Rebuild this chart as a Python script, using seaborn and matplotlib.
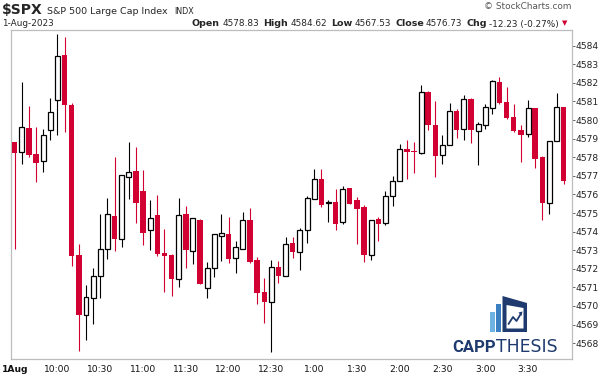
import matplotlib
matplotlib.use("Agg")

import numpy as np
import pandas as pd
import matplotlib.pyplot as plt
import matplotlib.patches as mpatches
import seaborn as sns

# 5-minute OHLC bars, $SPX 1-Aug-2023
opens = [4578.83, 4578.26, 4579.56, 4578.17, 4577.77, 4579.44, 4581.07, 4583.49, 4580.80, 4572.72,
         4569.53, 4570.41, 4571.59, 4573.04, 4574.82, 4573.58, 4576.91, 4577.25, 4576.18, 4574.06,
         4574.89, 4572.84, 4572.74, 4571.43, 4574.94, 4572.96, 4574.62, 4570.95, 4572.02, 4573.79,
         4573.87, 4572.56, 4573.09, 4574.62, 4572.47, 4570.75, 4570.19, 4572.09, 4571.59, 4573.38,
         4572.91, 4574.11, 4575.73, 4576.82, 4575.53, 4575.59, 4574.49, 4576.34, 4575.69, 4575.32,
         4572.75, 4574.67, 4574.47, 4575.93, 4576.70, 4578.43, 4578.31, 4578.20, 4581.52, 4579.73,
         4578.10, 4578.63, 4580.48, 4579.51, 4581.14, 4579.39, 4579.71, 4580.62, 4582.04, 4580.96,
         4580.16, 4579.46, 4579.26, 4580.62, 4578.02, 4575.55, 4578.88, 4580.68]
highs = [4578.83, 4582.04, 4580.75, 4579.62, 4579.51, 4581.18, 4584.62, 4584.46, 4580.89, 4573.33,
         4571.12, 4572.04, 4574.94, 4575.80, 4578.00, 4577.02, 4578.81, 4578.54, 4577.31, 4575.69,
         4575.96, 4574.13, 4572.77, 4575.80, 4575.37, 4574.71, 4574.67, 4572.36, 4573.85, 4574.94,
         4574.78, 4573.49, 4575.05, 4575.26, 4572.63, 4571.50, 4572.47, 4572.41, 4573.70, 4573.70,
         4574.20, 4575.91, 4577.36, 4577.36, 4575.68, 4576.29, 4576.43, 4576.34, 4575.85, 4575.43,
         4574.60, 4574.78, 4576.18, 4576.98, 4578.70, 4578.90, 4578.81, 4581.88, 4581.57, 4581.03,
         4579.19, 4580.89, 4580.59, 4581.34, 4581.16, 4579.87, 4580.84, 4582.13, 4582.31, 4581.77,
         4580.84, 4579.71, 4581.07, 4580.62, 4578.06, 4578.85, 4581.45, 4580.68]
lows = [4573.08, 4577.65, 4577.99, 4576.68, 4577.22, 4578.90, 4579.21, 4579.37, 4572.16, 4567.60,
        4568.18, 4569.04, 4570.44, 4572.54, 4572.97, 4573.18, 4575.77, 4574.47, 4573.29, 4573.02,
        4572.68, 4570.75, 4570.55, 4571.03, 4572.06, 4572.27, 4571.20, 4570.44, 4571.57, 4572.43,
        4572.32, 4571.79, 4573.09, 4572.32, 4570.12, 4569.10, 4567.53, 4571.25, 4571.59, 4572.59,
        4571.95, 4573.40, 4575.73, 4575.30, 4574.53, 4574.10, 4574.42, 4575.50, 4573.34, 4572.38,
        4572.49, 4573.49, 4574.37, 4575.39, 4576.70, 4576.84, 4577.16, 4578.17, 4579.48, 4576.95,
        4577.65, 4578.63, 4579.04, 4578.94, 4578.78, 4577.59, 4579.49, 4580.34, 4580.85, 4580.05,
        4579.33, 4577.75, 4579.06, 4577.43, 4574.64, 4574.96, 4578.88, 4576.55]
closes = [4578.24, 4579.65, 4578.13, 4577.70, 4579.22, 4580.41, 4583.42, 4580.82, 4572.70, 4569.53,
          4570.46, 4571.59, 4573.09, 4574.92, 4573.61, 4577.02, 4577.23, 4575.55, 4573.94, 4574.71,
          4572.79, 4572.70, 4571.46, 4574.87, 4573.02, 4574.71, 4571.20, 4572.04, 4573.85, 4573.90,
          4572.54, 4573.15, 4574.60, 4572.38, 4570.71, 4570.23, 4572.07, 4571.59, 4573.36, 4572.91,
          4574.11, 4575.78, 4576.81, 4575.44, 4575.57, 4574.42, 4576.27, 4575.50, 4575.23, 4572.75,
          4574.60, 4574.42, 4575.94, 4576.70, 4578.42, 4578.26, 4578.27, 4581.48, 4579.71, 4578.08,
          4578.63, 4580.46, 4579.44, 4581.11, 4579.44, 4579.78, 4580.68, 4582.09, 4580.93, 4580.10,
          4579.42, 4579.21, 4580.62, 4577.92, 4575.55, 4578.85, 4580.68, 4576.73]

time_labels = ["1Aug", "10:00", "10:30", "11:00", "11:30", "12:00", "12:30",
               "1:00", "1:30", "2:00", "2:30", "3:00", "3:30"]
price_ticks = list(range(4568, 4585))

quote_labels = ["Open", "High", "Low", "Close", "Chg"]
quote_values = ["4578.83", "4584.62", "4567.53", "4576.73", "-12.23 (-0.27%)"]

RED = "#d20032"
NAVY = "#1e3a6e"
W, H = 602, 376

sns.set_theme(style="white")
plt.rcParams["font.family"] = ["DejaVu Sans"]


def fx(px):
    return px / W


def fy(py):
    return 1 - py / H


df = pd.DataFrame({"open": opens, "high": highs, "low": lows, "close": closes})
df["bar"] = np.arange(len(df))
df["up"] = df["close"] >= df["open"]
up = df[df["up"]]
dn = df[~df["up"]]

fig = plt.figure(figsize=(W / 100, H / 100), dpi=100)
ax = fig.add_axes([fx(11), fy(359), (571.5 - 11) / W, (359 - 30) / H])

ax.vlines(dn["bar"], dn["low"], dn["high"], color=RED, lw=0.8, zorder=2)
ax.vlines(up["bar"], up["low"], up["high"], color="black", lw=0.8, zorder=2)
ax.bar(dn["bar"], (dn["open"] - dn["close"]).clip(lower=0.06), bottom=dn["close"],
       width=0.76, color=RED, lw=0, zorder=3)
ax.bar(up["bar"], (up["close"] - up["open"]).clip(lower=0.06), bottom=up["open"],
       width=0.70, facecolor="white", edgecolor="black", lw=0.9, zorder=3)

ax.set_xlim(-0.52, 78.1)
ax.set_ylim(4567.15, 4584.84)

ax.yaxis.tick_right()
ax.set_yticks(price_ticks)
ax.set_yticklabels([str(p) for p in price_ticks])
ax.tick_params(axis="y", which="major", direction="out", length=2.4, width=0.7,
               color="#666666", pad=0.6, labelsize=6.6, labelcolor="#222222")

ax.set_xticks(range(0, len(df), 6))
ax.set_xticklabels(time_labels)
ax.set_xticks(range(len(df)), minor=True)
ax.tick_params(axis="x", which="major", direction="out", length=3.0, width=0.7,
               color="#999999", pad=1.2, labelsize=6.6, labelcolor="#111111")
ax.tick_params(axis="x", which="minor", direction="out", length=1.5, width=0.6,
               color="#aaaaaa")
ax.get_xticklabels()[0].set_fontweight("bold")

for s in ax.spines.values():
    s.set_color("#bdbdbd")
    s.set_linewidth(0.9)

# header, laid out left to right with measured widths
renderer = fig.canvas.get_renderer()


def put(x, y, s, gap, **kw):
    t = fig.text(fx(x), fy(y), s, va="baseline", **kw)
    return t.get_window_extent(renderer).x1 + gap


x = put(2, 14, "$SPX", 4, fontsize=10, fontweight="bold")
x = put(x, 14, "S&P 500 Large Cap Index", 7, fontsize=6.8)
put(x, 14, "INDX", 0, fontsize=5.8)
put(2.5, 26.5, "1-Aug-2023", 0, fontsize=6.4)
fig.text(fx(571), fy(9), "\u00a9 StockCharts.com", fontsize=6.4, color="#555555",
         ha="right", va="baseline")

x = 192
for lab, val in zip(quote_labels, quote_values):
    x = put(x, 26.5, lab, 2.2, fontsize=6.8, fontweight="bold")
    x = put(x, 26.5, val, 4.2, fontsize=6.4)
fig.text(fx(x - 1), fy(25.5), "\u25bc", fontsize=5, color=RED, va="baseline")

# CAPPTHESIS logo
tf = fig.transFigure


def poly(pts, color):
    fig.patches.append(mpatches.Polygon([(fx(a), fy(b)) for a, b in pts], closed=True,
                                        facecolor=color, edgecolor="none", transform=tf))


poly([(490, 312), (494.5, 312), (494.5, 332), (490, 332)], "#6fb3e3")
poly([(495.5, 303.5), (500.5, 303.5), (500.5, 332), (495.5, 332)], "#3a80c3")
poly([(502.5, 296), (527, 303), (527, 332), (502.5, 332)], NAVY)
poly([(506.5, 305), (523.5, 308), (523.5, 328.5), (506.5, 328.5)], "white")
fig.lines.append(plt.Line2D([fx(508.5), fx(513), fx(516.5), fx(521)],
                            [fy(324), fy(317), fy(321), fy(313.5)],
                            color=NAVY, lw=1.3, transform=tf))
poly([(518.5, 312.5), (522.5, 311.5), (521.5, 316)], NAVY)

fig.text(fx(452.5), fy(352), "CAPP", fontsize=12, fontweight="bold", color=NAVY,
         family="Roboto", va="baseline")
fig.text(fx(495.5), fy(352), "THESIS", fontsize=12.4, color=NAVY,
         family="DejaVu Sans", va="baseline")

fig.savefig("out.png", dpi=100)
